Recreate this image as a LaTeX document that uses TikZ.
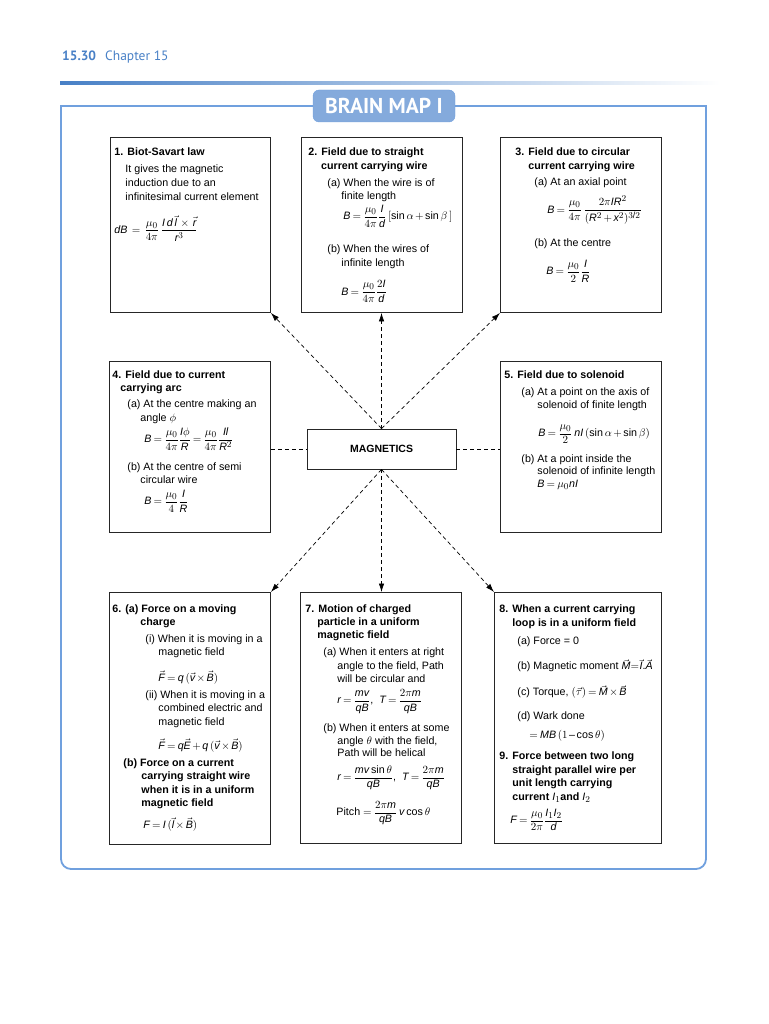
\documentclass[tikz,border=0pt]{standalone}
\usepackage{amsmath,amssymb}
\usepackage{fontspec}
\setmainfont{Liberation Sans}
\newfontfamily\hdrfont{PT Sans}
\usepackage[italic]{mathastext}
\usetikzlibrary{arrows.meta,positioning,calc}
\definecolor{hdrBlue}{RGB}{72,128,198}
\definecolor{frameBlue}{RGB}{112,160,222}
\definecolor{pillBlue}{RGB}{132,170,220}
% one text line inside a box: indent (pt) and content
\newcommand{\mline}[2]{\hspace*{#1pt}\mbox{#2}}
% box content: height, width, lines
\newcommand{\mapcontent}[3]{\parbox[t][#1pt][t]{#2pt}{\fontsize{10.7}{13.5}\selectfont\lineskiplimit=-100pt
  \thickmuskip=3.5mu plus 2mu\medmuskip=2.5mu plus 1mu\raggedright #3}}

\begin{document}
\begin{tikzpicture}[x=1pt, y=-1pt,
  mapbox/.style={draw=black!85, line width=0.9pt, anchor=north west, inner sep=0pt, fill=white},
  hubbox/.style={draw=black!85, line width=0.9pt, minimum width=149pt, minimum height=40pt, font=\fontsize{10.5}{12}\selectfont\bfseries},
  link/.style={dash pattern=on 4pt off 3pt, line width=0.7pt, -{Latex[length=8.5pt,width=5.5pt]}},
  flatlink/.style={dash pattern=on 4pt off 3pt, line width=0.7pt}]
  \useasboundingbox (0,0) rectangle (768,1024);
  % Page header
  \node[anchor=base west, inner sep=0pt, text=hdrBlue, font=\hdrfont\fontsize{13.5}{15}\selectfont\bfseries] (pnum) at (62,61) {15.30};
  \node[anchor=base west, inner sep=0pt, text=hdrBlue, font=\hdrfont\fontsize{13.5}{15}\selectfont] (chap) at (105,61) {Chapter 15};
  \shade[left color=hdrBlue, right color=white] (60,81.5) rectangle (720,84.5);
  % Frame
  \draw[frameBlue, line width=1.8pt, rounded corners=10pt] (61,106) -- (61,869) -- (706,869) -- (706,106);
  \draw[frameBlue, line width=1.8pt] (60.1,106) -- (706.9,106);
  \node[draw=frameBlue, fill=pillBlue, rounded corners=6pt, minimum width=142pt, minimum height=32pt, text=white, font=\hdrfont\fontsize{21.5}{23}\selectfont\bfseries] (title) at (384,106) {BRAIN MAP I};

  % Boxes, top row
  \node[mapbox] (b1) at (110,137) {\mapcontent{175}{160}{%
    \rule{0pt}{18.5pt}\mline{4}{\textbf{1. Biot-Savart law}}\\[3.5pt]
    \mline{15}{It gives the magnetic}\\[0.5pt]
    \mline{15}{induction due to an}\\
    \mline{15}{infinitesimal current element}\\[19.5pt]
    \mline{4}{$dB\;=\;\dfrac{\mu_0}{4\pi}\,\dfrac{I\,d\,\vec{l}\;\times\;\vec{r}}{r^3}$}}};
  \node[mapbox] (b2) at (301,137) {\mapcontent{175}{161}{%
    \rule{0pt}{18.2pt}\mline{7}{\textbf{2. Field due to straight}}\\[0.5pt]
    \mline{19.7}{\textbf{current carrying wire}}\\[3pt]
    \mline{26}{(a) When the wire is of}\\
    \mline{40}{finite length}\\[6.5pt]
    \mline{42}{$B=\dfrac{\mu_0}{4\pi}\dfrac{I}{d}\,[\sin\alpha+\sin\beta\,]$}\\[19.5pt]
    \mline{26}{(b) When the wires of}\\
    \mline{40}{infinite length}\\[15.5pt]
    \mline{40}{$B=\dfrac{\mu_0}{4\pi}\dfrac{2I}{d}$}}};
  \node[mapbox] (b3) at (500,137) {\mapcontent{175}{161}{%
    \rule{0pt}{18.2pt}\mline{15}{\textbf{3. Field due to circular}}\\[0.8pt]
    \mline{28}{\textbf{current carrying wire}}\\[2.2pt]
    \mline{34}{(a) At an axial point}\\[13.9pt]
    \mline{47}{$B=\dfrac{\mu_0}{4\pi}\,\dfrac{2\pi IR^2}{(R^2+x^2)^{3/2}}$}\\[20.4pt]
    \mline{34}{(b) At the centre}\\[14.3pt]
    \mline{46}{$B=\dfrac{\mu_0}{2}\dfrac{I}{R}$}}};

  % Boxes, middle row
  \node[mapbox] (b4) at (109,361) {\mapcontent{171}{161}{%
    \rule{0pt}{17.5pt}\mline{3}{\textbf{4. Field due to current}}\\[-0.5pt]
    \mline{11}{\textbf{carrying arc}}\\[2.5pt]
    \mline{18}{(a) At the centre making an}\\
    \mline{31}{angle $\phi$}\\[7.9pt]
    \mline{35}{$B=\dfrac{\mu_0}{4\pi}\dfrac{I\phi}{R}=\dfrac{\mu_0}{4\pi}\dfrac{Il}{R^2}$}\\[14.1pt]
    \mline{18}{(b) At the centre of semi}\\
    \mline{31}{circular wire}\\[7.3pt]
    \mline{35}{$B=\dfrac{\mu_0}{4}\dfrac{I}{R}$}}};
  \node[mapbox] (b5) at (500,361) {\mapcontent{171}{161}{%
    \rule{0pt}{17.5pt}\mline{4}{\textbf{5. Field due to solenoid}}\\[3.5pt]
    \mline{21}{(a) At a point on the axis of}\\[-1pt]
    \mline{37}{solenoid of finite length}\\[14.5pt]
    \mline{38}{$B=\dfrac{\mu_0}{2}\,nI\,(\sin\alpha+\sin\beta)$}\\[12.5pt]
    \mline{21}{(b) At a point inside the}\\[-1pt]
    \mline{37}{solenoid of infinite length}\\[-1pt]
    \mline{37}{$B=\mu_0nI$}}};
  \node[hubbox] (mag) at (381.5,449) {MAGNETICS};

  % Boxes, bottom row
  \node[mapbox] (b6) at (109,592) {\mapcontent{252}{161}{%
    \rule{0pt}{19.8pt}\mline{3}{\textbf{6. (a) Force on a moving}}\\
    \mline{31}{\textbf{charge}}\\[3.1pt]
    \mline{36}{(i) When it is moving in a}\\
    \mline{49}{magnetic field}\\[11.8pt]
    \mline{49}{$\vec{F}=q\,(\vec{v}\times\vec{B})$}\\[3.5pt]
    \mline{36}{(ii) When it is moving in a}\\
    \mline{49}{combined electric and}\\
    \mline{49}{magnetic field}\\[10.8pt]
    \mline{49}{$\vec{F}=q\vec{E}+q\,(\vec{v}\times\vec{B})$}\\[3.9pt]
    \mline{14}{\textbf{(b) Force on a current}}\\[-0.5pt]
    \mline{32}{\textbf{carrying straight wire}}\\
    \mline{32}{\textbf{when it is in a uniform}}\\
    \mline{32}{\textbf{magnetic field}}\\[7.7pt]
    \mline{34}{$F=I\,(\vec{l}\times\vec{B})$}}};
  \node[mapbox] (b7) at (300,592) {\mapcontent{251}{161}{%
    \rule{0pt}{19.8pt}\mline{5}{\textbf{7. Motion of charged}}\\
    \mline{17}{\textbf{particle in a uniform}}\\[-0.9pt]
    \mline{17}{\textbf{magnetic field}}\\[3.9pt]
    \mline{23}{(a) When it enters at right}\\
    \mline{37}{angle to the field, Path}\\
    \mline{37}{will be circular and}\\[7.3pt]
    \mline{37}{$r=\dfrac{mv}{qB}$, \ $T=\dfrac{2\pi m}{qB}$}\\[14.1pt]
    \mline{23}{(b) When it enters at some}\\
    \mline{37}{angle $\theta$ with the field,}\\[-1.8pt]
    \mline{37}{Path will be helical}\\[10.6pt]
    \mline{37}{$r=\dfrac{mv\sin\theta}{qB}$, \ $T=\dfrac{2\pi m}{qB}$}\\[21.5pt]
    \mline{36}{Pitch $=\dfrac{2\pi m}{qB}\,v\cos\theta$}}};
  \node[mapbox] (b8) at (494,592) {\mapcontent{251}{167}{%
    \rule{0pt}{19.8pt}\mline{5}{\textbf{8. When a current carrying}}\\[0.5pt]
    \mline{18}{\textbf{loop is in a uniform field}}\\[5.2pt]
    \mline{23}{(a) Force = 0}\\[11.5pt]
    \mline{23}{(b) Magnetic moment $\vec{M}\!=\!\vec{I}.\vec{A}$}\\[12.2pt]
    \mline{23}{(c) Torque, $(\vec{\tau})=\vec{M}\times\vec{B}$}\\[10.8pt]
    \mline{23}{(d) Wark done}\\[4.8pt]
    \mline{35}{$=MB\,(1-\cos\theta)$}\\[7.9pt]
    \mline{5}{\textbf{9. Force between two long}}\\
    \mline{18}{\textbf{straight parallel wire per}}\\[0.2pt]
    \mline{18}{\textbf{unit length carrying}}\\
    \mline{18}{\textbf{current $I_1$and $I_2$}}\\[9.6pt]
    \mline{16}{$F=\dfrac{\mu_0}{2\pi}\dfrac{I_1I_2}{d}$}}};

  % Connectors
  \draw[link] (mag.north) -- (b1.south east);
  \draw[link] (mag.north) -- (mag.north |- b2.south);
  \draw[link] (mag.north) -- (b3.south west);
  \draw[flatlink] (b4.east |- mag.west) -- (mag.west);
  \draw[flatlink] (mag.east) -- (b5.west |- mag.east);
  \draw[link] (mag.south) -- (b6.north east);
  \draw[link] (mag.south) -- (mag.south |- b7.north);
  \draw[link] (mag.south) -- (b8.north west);
\end{tikzpicture}
\end{document}
